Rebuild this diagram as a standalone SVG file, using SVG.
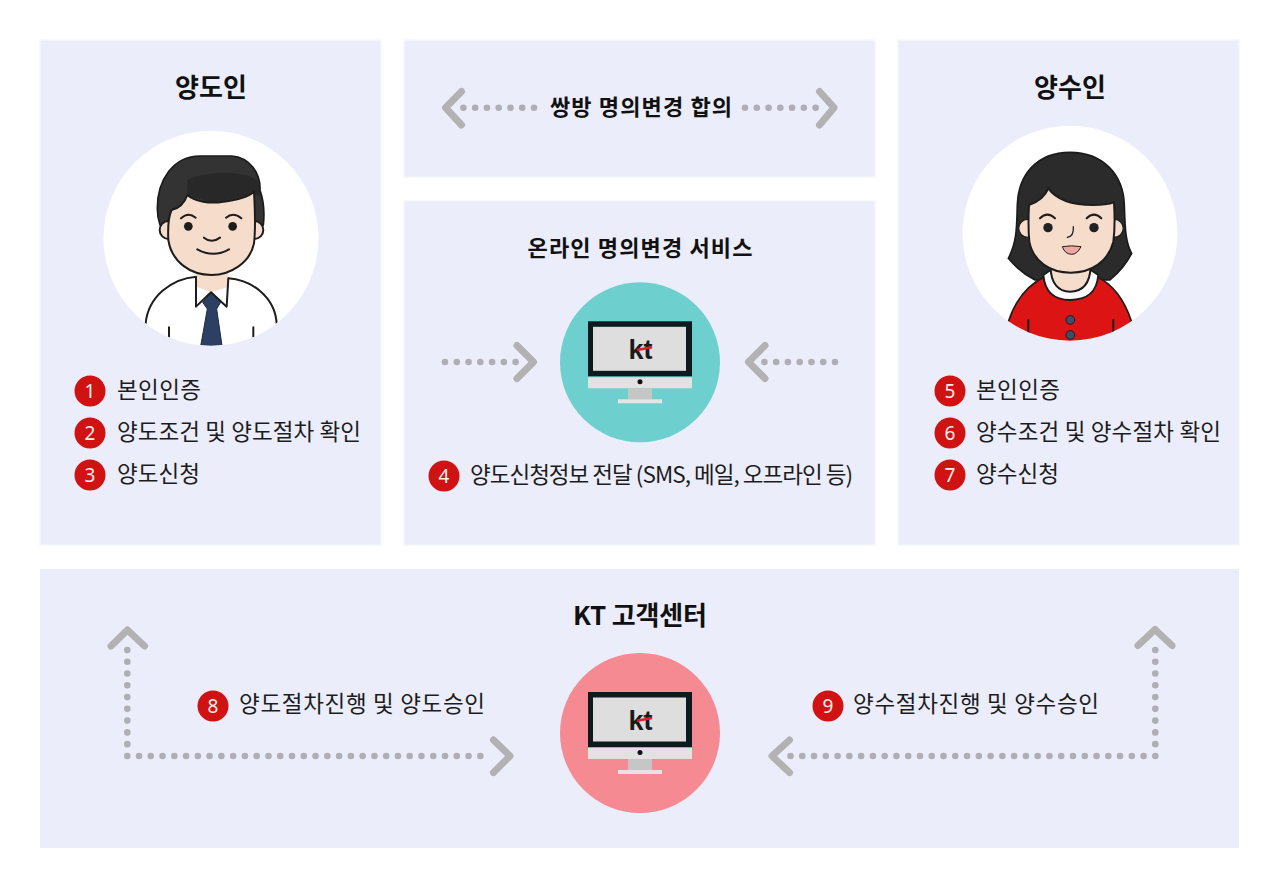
<svg xmlns="http://www.w3.org/2000/svg" width="1280" height="888" viewBox="0 0 1280 888">
<style>
text{font-family:"Noto Sans CJK KR","Noto Sans",sans-serif;fill:#1c1c1c}
.panel{fill:#ebedfb;stroke:#f5f6fd;stroke-width:1.5}
.t{font-size:26px;font-weight:700;text-anchor:middle;fill:#111}
.s{font-size:22px;font-weight:700;text-anchor:middle;fill:#111}
.i{font-size:22.500px;font-weight:400}
.b{fill:#d01212}
.n{font-family:"Noto Sans",sans-serif;font-size:19px;fill:#fff0ee;text-anchor:middle}
.dot{fill:none;stroke:#aeaeb4;stroke-width:6.600;stroke-linecap:round;stroke-dasharray:0 11.77}
.chev{fill:none;stroke:#b2b2b2;stroke-width:7;stroke-linejoin:round;stroke-linecap:round}
.ol{stroke:#1d1d1d;stroke-width:6;stroke-linecap:round;stroke-linejoin:round}
.kt{font-family:"Liberation Sans",sans-serif;font-size:27px;font-weight:700;text-anchor:middle;fill:#1a1a1a}
</style>
<defs>
<clipPath id="cm"><circle cx="333" cy="325" r="322"/></clipPath>
<clipPath id="cw"><circle cx="330" cy="325" r="322"/></clipPath>
<g id="mon">
<rect x="-52" y="-41" width="104" height="55" fill="#0e1a20"/>
<rect x="-47" y="-35.500" width="93" height="44" fill="#dedede"/>
<rect x="-52" y="15" width="104" height="11" fill="#e2e2e2"/>
<circle cx="0" cy="19.500" r="2.500" fill="#111"/>
<rect x="-12" y="26" width="24" height="11" fill="#c6c6c6"/>
<rect x="-22" y="37" width="44" height="4" fill="#e4e4e4"/>
</g>
</defs>
<rect width="1280" height="888" fill="#fff"/>
<rect class="panel" x="40" y="40" width="341" height="505"/>
<rect class="panel" x="404" y="40" width="471" height="137"/>
<rect class="panel" x="404" y="201" width="471" height="344"/>
<rect class="panel" x="898" y="40" width="341" height="505"/>
<rect class="panel" x="40" y="569" width="1199" height="279" style="stroke:none"/>

<g id="connectors">
<path class="dot" d="M534 107.700H463"/><path class="chev" d="M461.500 91.500L445.500 107.700L461.500 125"/>
<path class="dot" d="M745 107.700H816.500"/><path class="chev" d="M819.500 91.500L834 107.700L819.500 125"/>
<path class="dot" d="M445 362H517"/><path class="chev" d="M517 345.500L533.500 362L517 378.500"/>
<path class="dot" d="M835 362H763"/><path class="chev" d="M765 345.500L748.500 362L765 378.500"/>
<path class="dot" d="M127.300 650V756H492"/><path class="chev" d="M111 646L127.500 630L144.500 646"/><path class="chev" d="M493.500 740L510 756L493.500 772.500"/>
<path class="dot" d="M1155.300 650V756H790"/><path class="chev" d="M1138 645.500L1155 629.500L1172 645.500"/><path class="chev" d="M789.500 740L772 756L789.500 772.500"/>
</g>

<g id="transferor">
<text class="t" x="211" y="97">양도인</text>
<circle cx="211" cy="238.300" r="107.500" fill="#fff"/>
<g transform="translate(100 130) scale(.3333)"><g clip-path="url(#cm)">
<path d="M137 580C145 500 215 445 290 440H385C455 445 525 500 530 580V660H137Z" fill="#fff"/>
<path class="ol" d="M137 580C145 500 215 445 290 440M385 445C455 450 525 500 530 580" fill="none"/>
<path d="M288 425H385V470L335 487L288 470Z" fill="#f5dccb"/>
<path d="M335 487L362 517L350 537L368 660H300L322 537L308 517Z" fill="#2d3f63" stroke="#1d2a44" stroke-width="3"/>
<path class="ol" d="M288 440V530L333 487L380 530L385 445" fill="none"/>
<path d="M207 592V622M460 592V622" class="ol" fill="none"/>
<path d="M172 235C172 150 220 78 300 78H395C450 82 482 130 480 180C492 215 494 250 490 285L465 320H205L180 285C175 270 172 255 172 235Z" fill="#333" stroke="#1a1a1a" stroke-width="5"/>
<path d="M262 150C310 125 420 120 470 148C477 165 480 180 480 200L462 190L340 220L262 195Z" fill="#282828"/>
<circle cx="206" cy="300" r="27" fill="#f5dccb" class="ol"/><circle cx="463" cy="300" r="27" fill="#f5dccb" class="ol"/>
<path class="ol" d="M205 330C203 290 205 260 215 240C240 235 255 215 262 195C285 215 330 222 370 215C410 210 445 200 462 185C465 240 468 290 462 340C450 400 390 435 335 435C270 435 215 395 205 330Z" fill="#f5dccb"/>
<circle cx="265" cy="289" r="13" fill="#1d1d1d"/><circle cx="398" cy="289" r="13" fill="#1d1d1d"/>
<path class="ol" d="M243 265Q265 245 287 263M378 263Q400 245 424 265M312 323Q335 342 360 323M292 358Q340 385 387 358" fill="none"/>
</g></g>
<circle class="b" cx="90" cy="391" r="15.500"/><text class="n" x="90" y="398">1</text>
<text class="i" x="117" y="398" textLength="84" lengthAdjust="spacing">본인인증</text>
<circle class="b" cx="90" cy="433" r="15.500"/><text class="n" x="90" y="440">2</text>
<text class="i" x="117" y="440" textLength="244" lengthAdjust="spacing">양도조건 및 양도절차 확인</text>
<circle class="b" cx="90" cy="475" r="15.500"/><text class="n" x="90" y="482">3</text>
<text class="i" x="117" y="482" textLength="83" lengthAdjust="spacing">양도신청</text>
</g>

<g id="agreement"><text class="s" x="641" y="115" textLength="182" lengthAdjust="spacing">쌍방 명의변경 합의</text></g>

<g id="online-service">
<text class="s" x="640" y="256" textLength="225" lengthAdjust="spacing">온라인 명의변경 서비스</text>
<circle cx="640" cy="362.300" r="80" fill="#6ed0ce"/>
<use href="#mon" x="640" y="362.300"/>
<text class="kt" x="640.500" y="359">kt</text>
<path d="M637 350L652 347.300" stroke="#d8202a" stroke-width="2.500"/>
<circle class="b" cx="444" cy="476" r="15.500"/><text class="n" x="444" y="483">4</text>
<text class="i" x="470" y="483" textLength="383" lengthAdjust="spacing">양도신청정보 전달 (SMS, 메일, 오프라인 등)</text>
</g>

<g id="transferee">
<text class="t" x="1070" y="97">양수인</text>
<circle cx="1070" cy="233.300" r="107.500" fill="#fff"/>
<g transform="translate(960 125) scale(.3333)"><g clip-path="url(#cw)">
<path d="M330 82C230 82 175 150 172 240C170 300 172 350 145 400C170 430 195 450 225 465H450C480 440 500 415 515 385C495 350 495 300 493 240C490 150 430 82 330 82Z" fill="#2b2b2b" stroke="#1a1a1a" stroke-width="5"/>
<path d="M145 590C165 530 200 480 255 455H410C465 480 495 530 515 590L515 660H145Z" fill="#dc1414" stroke="#1d1d1d" stroke-width="5"/>
<path class="ol" d="M250 450C255 505 285 525 330 525C380 525 410 505 415 450L392 435H272Z" fill="#fff"/>
<path class="ol" d="M272 425C272 475 295 500 330 500C368 500 390 475 392 425Z" fill="#f5dccb"/>
<circle cx="203" cy="310" r="27" fill="#f5dccb" stroke="#1d1d1d" stroke-width="4"/><circle cx="463" cy="310" r="27" fill="#f5dccb" stroke="#1d1d1d" stroke-width="4"/>
<path class="ol" d="M207 240C235 230 255 215 265 190C290 225 340 240 400 240C425 240 445 238 462 232C465 280 464 320 460 350C445 410 395 443 332 443C270 443 220 410 208 350C205 320 205 280 207 240Z" fill="#f5dccb"/>
<circle cx="264" cy="308" r="14" fill="#222"/><circle cx="402" cy="308" r="14" fill="#222"/>
<path class="ol" d="M240 280Q262 258 285 280M380 280Q402 258 424 280" fill="none"/>
<path d="M340 305Q342 335 322 337" fill="none" stroke="#1d1d1d" stroke-width="4" stroke-linecap="round"/>
<path d="M307 365Q335 360 363 365Q352 388 335 388Q315 388 307 365Z" fill="#eda79f" stroke="#1d1d1d" stroke-width="3"/>
<path class="ol" d="M205 585V620M460 585V620" fill="none"/>
<circle cx="331" cy="585" r="13" fill="#3a4f6e" stroke="#1d1d1d" stroke-width="3"/><circle cx="331" cy="630" r="13" fill="#3a4f6e" stroke="#1d1d1d" stroke-width="3"/>
</g></g>
<circle class="b" cx="950" cy="391" r="15.500"/><text class="n" x="950" y="398">5</text>
<text class="i" x="976" y="398" textLength="84" lengthAdjust="spacing">본인인증</text>
<circle class="b" cx="950" cy="433" r="15.500"/><text class="n" x="950" y="440">6</text>
<text class="i" x="976" y="440" textLength="245" lengthAdjust="spacing">양수조건 및 양수절차 확인</text>
<circle class="b" cx="950" cy="475" r="15.500"/><text class="n" x="950" y="482">7</text>
<text class="i" x="976" y="482" textLength="83" lengthAdjust="spacing">양수신청</text>
</g>

<g id="kt-center">
<text class="t" x="640" y="625" textLength="134" lengthAdjust="spacing">KT 고객센터</text>
<circle cx="640" cy="733" r="80" fill="#f58a92"/>
<use href="#mon" x="640" y="733"/>
<text class="kt" x="640.500" y="729.700">kt</text>
<path d="M637 720.700L652 718" stroke="#d8202a" stroke-width="2.500"/>
<circle class="b" cx="213" cy="706" r="15.500"/><text class="n" x="213" y="713">8</text>
<text class="i" x="239" y="712" textLength="246" lengthAdjust="spacing">양도절차진행 및 양도승인</text>
<circle class="b" cx="828" cy="706" r="15.500"/><text class="n" x="828" y="713">9</text>
<text class="i" x="853" y="712" textLength="246" lengthAdjust="spacing">양수절차진행 및 양수승인</text>
</g>
</svg>
